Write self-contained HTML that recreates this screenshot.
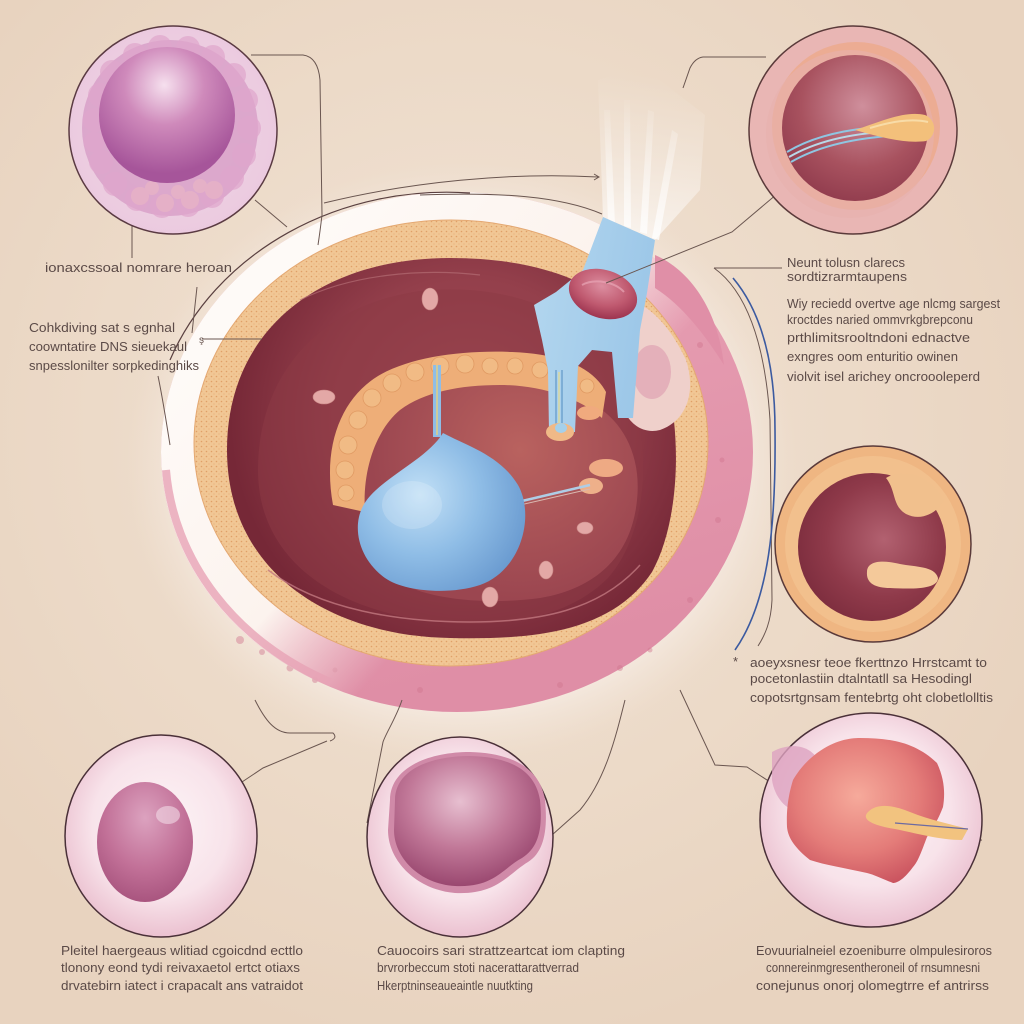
<!DOCTYPE html>
<html><head><meta charset="utf-8"><style>
html,body{margin:0;padding:0;background:#ebd8c5;}
svg{display:block}
text{font-family:"Liberation Sans",sans-serif;fill:#5b4a47;}
</style></head><body>
<svg width="1024" height="1024" viewBox="0 0 1024 1024" xmlns="http://www.w3.org/2000/svg">
<defs>
 <radialGradient id="bg" gradientUnits="userSpaceOnUse" cx="470" cy="430" r="620">
  <stop offset="0" stop-color="#f2e4d7"/><stop offset="0.6" stop-color="#ecdac8"/><stop offset="1" stop-color="#e8d3bf"/>
 </radialGradient>
 <radialGradient id="halo" cx="0.5" cy="0.5" r="0.5">
  <stop offset="0.8" stop-color="#f6ebe2" stop-opacity="1"/><stop offset="1" stop-color="#f1e3d6" stop-opacity="0"/>
 </radialGradient>
 <linearGradient id="pinkg" x1="0" y1="0" x2="0.3" y2="1">
  <stop offset="0" stop-color="#eaa6b8"/><stop offset="1" stop-color="#df8ea6"/>
 </linearGradient>
 <linearGradient id="whiteg" gradientUnits="userSpaceOnUse" x1="260" y1="290" x2="560" y2="560">
  <stop offset="0" stop-color="#fefaf7" stop-opacity="1"/>
  <stop offset="0.55" stop-color="#fcf3ee" stop-opacity="1"/>
  <stop offset="0.85" stop-color="#f8e6e4" stop-opacity="0"/>
 </linearGradient>
 <pattern id="dots" width="5" height="5" patternUnits="userSpaceOnUse">
  <rect width="5" height="5" fill="#f1c795"/>
  <circle cx="1.5" cy="1.5" r="0.8" fill="#d99259" opacity="0.75"/>
  <circle cx="4" cy="4" r="0.6" fill="#dc9a64" opacity="0.6"/>
 </pattern>
 <radialGradient id="maroon" gradientUnits="userSpaceOnUse" cx="470" cy="420" r="240">
  <stop offset="0" stop-color="#a85059"/><stop offset="0.6" stop-color="#933f4b"/><stop offset="1" stop-color="#762837"/>
 </radialGradient>
 <radialGradient id="cavity" gradientUnits="userSpaceOnUse" cx="520" cy="450" r="150">
  <stop offset="0" stop-color="#b9625f"/><stop offset="1" stop-color="#9b4650"/>
 </radialGradient>
 <radialGradient id="drop" gradientUnits="userSpaceOnUse" cx="420" cy="495" r="120">
  <stop offset="0" stop-color="#c2e0f6"/><stop offset="0.5" stop-color="#8fbde6"/><stop offset="1" stop-color="#6596cd"/>
 </radialGradient>
 <linearGradient id="tube" x1="0" y1="0" x2="1" y2="0.3">
  <stop offset="0" stop-color="#b4d7ef"/><stop offset="1" stop-color="#9cc7e8"/>
 </linearGradient>
 <linearGradient id="rays" gradientUnits="userSpaceOnUse" x1="630" y1="235" x2="650" y2="75">
  <stop offset="0" stop-color="#ffffff" stop-opacity="0.6"/><stop offset="0.5" stop-color="#ffffff" stop-opacity="0.25"/><stop offset="1" stop-color="#ffffff" stop-opacity="0"/>
 </linearGradient>
 <linearGradient id="stripe" gradientUnits="userSpaceOnUse" x1="0" y1="235" x2="0" y2="90">
  <stop offset="0" stop-color="#ffffff" stop-opacity="0.75"/><stop offset="1" stop-color="#ffffff" stop-opacity="0"/>
 </linearGradient>
 <radialGradient id="cap" cx="0.45" cy="0.35" r="0.65">
  <stop offset="0" stop-color="#dc8ea0"/><stop offset="0.6" stop-color="#c05a70"/><stop offset="1" stop-color="#9e3550"/>
 </radialGradient>
 <radialGradient id="tlO" cx="0.5" cy="0.5" r="0.5">
  <stop offset="0" stop-color="#f4dcea"/><stop offset="1" stop-color="#ebcadf"/>
 </radialGradient>
 <radialGradient id="tlS" cx="0.48" cy="0.28" r="0.65">
  <stop offset="0" stop-color="#f6e0ee"/><stop offset="0.45" stop-color="#cf8abb"/><stop offset="1" stop-color="#a6559a"/>
 </radialGradient>
 <radialGradient id="trI" cx="0.55" cy="0.35" r="0.7">
  <stop offset="0" stop-color="#cf8f9c"/><stop offset="0.6" stop-color="#a8525f"/><stop offset="1" stop-color="#8f3a4c"/>
 </radialGradient>
 <radialGradient id="rmI" cx="0.58" cy="0.45" r="0.65">
  <stop offset="0" stop-color="#b26170"/><stop offset="0.6" stop-color="#8f3a4a"/><stop offset="1" stop-color="#7a2b3c"/>
 </radialGradient>
 <radialGradient id="cellW" cx="0.5" cy="0.45" r="0.55">
  <stop offset="0" stop-color="#fdf5f7"/><stop offset="0.65" stop-color="#f8e3ea"/><stop offset="1" stop-color="#ebc1d0"/>
 </radialGradient>
 <radialGradient id="nuc1" cx="0.5" cy="0.3" r="0.7">
  <stop offset="0" stop-color="#dca2bf"/><stop offset="0.6" stop-color="#c27198"/><stop offset="1" stop-color="#a9557f"/>
 </radialGradient>
 <radialGradient id="nuc2" cx="0.45" cy="0.35" r="0.65">
  <stop offset="0" stop-color="#e7bfd0"/><stop offset="0.55" stop-color="#c17898"/><stop offset="1" stop-color="#9a4870"/>
 </radialGradient>
 <radialGradient id="nuc3" cx="0.45" cy="0.4" r="0.65">
  <stop offset="0" stop-color="#f6aa9b"/><stop offset="0.6" stop-color="#e47c79"/><stop offset="1" stop-color="#c9525e"/>
 </radialGradient>
</defs>

<rect width="1024" height="1024" fill="url(#bg)"/>

<!-- halo around main -->
<ellipse cx="462" cy="462" rx="335" ry="300" fill="url(#halo)"/>

<!-- white rays -->
<polygon points="603,217 598,80 640,65 705,115 700,190 655,240" fill="url(#rays)"/>
<g fill="url(#stripe)">
 <polygon points="608,222 604,110 610,110 615,224"/>
 <polygon points="624,226 624,100 630,100 631,228"/>
 <polygon points="640,232 648,110 654,112 647,234"/>
 <polygon points="652,238 672,130 678,134 659,240"/>
</g>

<!-- pink outer -->
<ellipse cx="457" cy="452" rx="296" ry="260" fill="url(#pinkg)"/>
<g fill="#d0768f" opacity="0.45">
 <circle cx="240" cy="640" r="4"/><circle cx="262" cy="652" r="3"/><circle cx="290" cy="668" r="3.5"/>
 <circle cx="315" cy="680" r="3"/><circle cx="335" cy="670" r="2.5"/><circle cx="420" cy="690" r="3"/>
 <circle cx="560" cy="685" r="3"/><circle cx="620" cy="668" r="3"/><circle cx="690" cy="600" r="3"/>
 <circle cx="718" cy="520" r="3"/><circle cx="722" cy="460" r="2.5"/>
 <circle cx="650" cy="650" r="2.5"/><circle cx="700" cy="345" r="3"/>
</g>
<!-- white crescent (fades to pink toward bottom-right) -->
<ellipse cx="457" cy="452" rx="296" ry="260" fill="url(#whiteg)"/>
<path d="M166,470 A292,256 0 0 0 330,682" fill="none" stroke="#e7a2b5" stroke-width="8" opacity="0.8"/>
<path d="M170,360 A296,260 0 0 1 470,193" fill="none" stroke="#5a4040" stroke-width="1.2"/>

<!-- orange dotted ring -->
<ellipse cx="451" cy="443" rx="257" ry="223" fill="url(#dots)" stroke="#e4a872" stroke-width="1"/>

<!-- dark maroon -->
<path d="M227,450 C227,330 320,258 450,258 C565,258 645,300 668,385 C682,445 678,525 652,572 C612,632 535,640 450,638 C330,636 227,572 227,450 Z" fill="url(#maroon)"/>
<path d="M258,470 C258,370 325,300 430,290 C520,284 600,318 632,395 C652,455 646,535 608,578 C568,618 505,628 440,622 C335,612 258,560 258,470 Z" fill="#8c3a46" opacity="0.55"/>
<path d="M268,570 C320,610 400,622 470,622 C540,622 600,610 640,565" fill="none" stroke="#c27880" stroke-width="1.5" opacity="0.8"/>
<path d="M300,300 C350,275 420,268 480,275" fill="none" stroke="#b36c74" stroke-width="1.2" opacity="0.7"/>

<!-- pale region right of tube -->
<path d="M655,255 C690,270 718,310 724,365 C705,335 682,305 655,288 Z" fill="#e08fa7"/>
<path d="M625,300 C650,302 672,330 686,360 C696,390 688,420 660,430 C640,435 625,420 620,400 Z" fill="#efd0cb"/>
<ellipse cx="652" cy="372" rx="19" ry="27" fill="#e4b0ba"/>

<!-- inner cavity lighter region -->
<path d="M360,505 C356,455 375,415 405,400 C445,382 520,378 580,398 C620,413 642,452 637,500 C632,552 600,588 540,598 C480,606 420,598 392,578 C372,562 362,532 360,505 Z" fill="url(#cavity)"/>
<!-- orange lumpy band -->
<path d="M333,505 C322,445 342,398 378,376 C410,357 462,350 512,352 C560,354 592,366 606,392 L602,418 C580,398 540,385 500,385 C460,385 424,392 400,410 C376,430 362,470 365,512 Z" fill="#eeae78"/>
<g fill="#f1bb85" stroke="#e09a63" stroke-width="0.8">
 <circle cx="345" cy="470" r="9"/><circle cx="348" cy="445" r="9"/><circle cx="358" cy="420" r="9"/>
 <circle cx="372" cy="398" r="9"/><circle cx="392" cy="383" r="9"/><circle cx="415" cy="372" r="9"/>
 <circle cx="440" cy="366" r="9"/><circle cx="465" cy="364" r="9"/><circle cx="490" cy="366" r="8"/>
 <circle cx="515" cy="366" r="8"/><circle cx="540" cy="370" r="8"/><circle cx="565" cy="376" r="8"/>
 <circle cx="587" cy="386" r="7"/><circle cx="346" cy="493" r="8"/>
</g>

<!-- small cells -->
<g fill="#e3a8a6" stroke="#c98685" stroke-width="0.6">
 <ellipse cx="430" cy="299" rx="8" ry="11"/>
 <ellipse cx="324" cy="397" rx="11" ry="7"/>
 <ellipse cx="585" cy="528" rx="8" ry="6"/>
 <ellipse cx="546" cy="570" rx="7" ry="9"/>
 <ellipse cx="490" cy="597" rx="8" ry="10"/>
</g>
<ellipse cx="589" cy="413" rx="12" ry="7" fill="#f0aa7e"/>
<ellipse cx="606" cy="468" rx="17" ry="9" fill="#eeaa84"/>
<ellipse cx="591" cy="486" rx="12" ry="8" fill="#eeb08a"/>
<path d="M505,505 L590,485" stroke="#aecde6" stroke-width="2.5" fill="none"/>
<path d="M507,508 L590,489" stroke="#d9b8b0" stroke-width="1" fill="none"/>

<!-- blue drop -->
<rect x="433" y="365" width="8" height="72" fill="#8fbde6"/>
<rect x="436" y="365" width="2" height="70" fill="#e8d27a" opacity="0.7"/>
<path d="M443,433 C465,445 500,455 518,485 C535,515 522,570 480,585 C450,595 405,592 385,578 C360,560 352,530 362,508 C375,480 425,462 443,433 Z" fill="url(#drop)"/>
<ellipse cx="412" cy="505" rx="30" ry="24" fill="#ffffff" opacity="0.18"/>

<!-- blue tube -->
<path d="M603,217 L655,240 L647,293 L640,330 L633,418 L618,418 L612,352 L592,350 L578,366 L575,432 L549,432 L548,370 L542,340 L534,305 L556,292 L583,270 Z" fill="url(#tube)"/>
<path d="M556,370 L556,428 M562,370 L562,428" stroke="#6fa3cf" stroke-width="1.5"/>
<path d="M559,372 L559,426" stroke="#e9dc8a" stroke-width="1.2"/>
<ellipse cx="560" cy="432" rx="14" ry="9" fill="#f0b987"/>
<ellipse cx="561" cy="428" rx="6" ry="5" fill="#a5d0ea"/>
<!-- red cap -->
<ellipse cx="603" cy="294" rx="35" ry="24" transform="rotate(18 603 294)" fill="url(#cap)"/>
<path d="M582,285 C595,278 615,282 624,292" stroke="#e8a5b5" stroke-width="2" fill="none" opacity="0.7"/>

<!-- connectors -->
<g fill="none" stroke="#6a5650" stroke-width="1">
 <path d="M251,55 L303,55 Q318,57 320,80 L322,215 Q320,232 318,245"/>
 <path d="M255,200 L287,227"/>
 <path d="M132,215 L132,258"/>
 <path d="M324,203 C410,182 510,172 598,177"/>
 <path d="M420,195 C500,192 560,196 602,214"/>
 <path d="M766,57 L703,57 Q695,58 690,68 L683,88"/>
 <path d="M790,183 L732,232 L606,283"/>
 <path d="M714,268 L782,268"/>
 <path d="M714,268 C745,290 765,340 770,420 L772,600 C771,622 765,635 758,646"/>
 <path d="M197,287 L192,333"/>
 <path d="M202,339 L262,339"/>
 <path d="M158,376 C163,400 166,420 170,445"/>
 <path d="M255,700 C265,720 275,733 290,733 L333,733 Q338,738 330,741"/>
 <path d="M327,741 L263,768 L188,818"/>
 <path d="M402,700 C396,718 386,733 383,742 L367,823"/>
 <path d="M625,700 C615,740 605,780 580,810 L552,835"/>
 <path d="M680,690 L715,765 L747,767 L790,795"/>
 <path d="M962,842 L982,840"/>
</g>
<path d="M733,278 C760,310 775,360 775,430 C776,520 770,600 735,650" fill="none" stroke="#3b5aa0" stroke-width="1.6"/>
<path d="M594,174 L599,177 L594,180" fill="none" stroke="#6a5650" stroke-width="1"/>
<circle cx="188" cy="818" r="1.8" fill="#5a3a40"/>
<text x="199" y="343" font-size="10" style="fill:#6a5650">ş</text>

<!-- top-left circle -->
<circle cx="173" cy="130" r="104" fill="url(#tlO)" stroke="#5a3a42" stroke-width="1.5"/>
<circle cx="170" cy="128" r="88" fill="#d69ac4" opacity="0.75"/>
<g fill="#e0a6cc" opacity="0.7">
 <circle cx="95" cy="120" r="12"/><circle cx="100" cy="95" r="12"/><circle cx="112" cy="72" r="12"/>
 <circle cx="135" cy="55" r="12"/><circle cx="160" cy="47" r="12"/><circle cx="188" cy="48" r="12"/>
 <circle cx="213" cy="57" r="12"/><circle cx="234" cy="75" r="12"/><circle cx="246" cy="100" r="12"/>
 <circle cx="249" cy="128" r="12"/><circle cx="244" cy="155" r="12"/><circle cx="232" cy="178" r="12"/>
 <circle cx="212" cy="196" r="12"/><circle cx="188" cy="205" r="12"/><circle cx="162" cy="206" r="12"/>
 <circle cx="137" cy="199" r="12"/><circle cx="115" cy="184" r="12"/><circle cx="101" cy="162" r="12"/>
 <circle cx="94" cy="142" r="10"/>
</g>
<g fill="#e8b4c6" opacity="0.75">
 <circle cx="140" cy="196" r="9"/><circle cx="165" cy="203" r="9"/><circle cx="190" cy="200" r="9"/><circle cx="214" cy="190" r="9"/>
 <circle cx="152" cy="188" r="7"/><circle cx="178" cy="192" r="7"/><circle cx="200" cy="186" r="7"/>
</g>
<circle cx="167" cy="115" r="68" fill="url(#tlS)"/>

<!-- top-right circle -->
<circle cx="853" cy="130" r="104" fill="#e9b6b4" stroke="#5a3a3a" stroke-width="1.5"/>
<circle cx="856" cy="126" r="84" fill="#eca884" opacity="0.7"/>
<circle cx="850" cy="134" r="84" fill="#e7b1ae" opacity="0.6"/>
<circle cx="855" cy="128" r="73" fill="url(#trI)"/>
<g fill="none" stroke-width="2">
 <path d="M787,152 C815,135 855,127 900,126" stroke="#8fc6e2"/>
 <path d="M789,157 C818,140 858,132 902,131" stroke="#b8d8e8"/>
 <path d="M791,162 C820,145 860,137 904,135" stroke="#8fc6e2"/>
</g>
<path d="M855,130 C880,122 905,110 925,115 C937,120 937,136 926,141 C905,144 880,137 855,130 Z" fill="#f3c07b"/>
<path d="M870,128 C890,122 910,118 928,122" stroke="#f8dca8" stroke-width="2" fill="none"/>

<!-- right-middle circle -->
<circle cx="873" cy="544" r="98" fill="#efb682" stroke="#5a3a3a" stroke-width="1.5"/>
<circle cx="873" cy="544" r="88" fill="#f4c898" opacity="0.55"/>
<circle cx="872" cy="547" r="74" fill="url(#rmI)"/>
<path d="M886,478 C896,490 892,506 906,514 C922,522 938,512 944,500 C936,486 926,478 912,474 C902,472 892,474 886,478 Z" fill="#f1c08d"/>
<path d="M867,572 C867,560 884,560 900,564 C915,567 935,566 938,578 C938,590 910,589 890,588 C875,588 866,583 867,572 Z" fill="#f4c99a"/>

<!-- bottom-left circle -->
<ellipse cx="161" cy="836" rx="96" ry="101" fill="url(#cellW)" stroke="#4a3038" stroke-width="1.5"/>
<ellipse cx="145" cy="842" rx="48" ry="60" fill="url(#nuc1)"/>
<ellipse cx="168" cy="815" rx="12" ry="9" fill="#f2dbe6" opacity="0.6"/>

<!-- bottom-middle circle -->
<ellipse cx="460" cy="837" rx="93" ry="100" fill="url(#cellW)" stroke="#4a3038" stroke-width="1.5"/>
<path d="M390,800 C390,768 428,752 470,752 C512,753 540,768 545,800 C548,830 544,852 528,862 C508,874 497,895 455,893 C418,890 388,862 388,830 Z" fill="#d08aa8"/>
<path d="M395,800 C395,770 430,756 470,756 C510,757 535,770 540,800 C543,830 538,848 522,858 C503,868 494,888 455,886 C420,884 394,858 394,830 Z" fill="url(#nuc2)"/>

<!-- bottom-right circle -->
<ellipse cx="871" cy="820" rx="111" ry="107" fill="url(#cellW)" stroke="#4a3038" stroke-width="1.5"/>
<path d="M772,752 C790,742 810,745 818,760 L805,810 C790,815 775,800 772,780 Z" fill="#dda3c0" opacity="0.8"/>
<path d="M817,753 C835,740 850,738 860,738 C890,738 915,742 937,763 C945,780 945,795 943,807 C938,820 932,830 927,837 C922,850 918,862 913,867 C905,878 898,883 893,883 C880,878 875,875 867,873 C845,868 825,865 810,860 C795,848 788,838 787,827 C786,805 790,790 793,780 C800,768 808,760 817,753 Z" fill="url(#nuc3)"/>
<path d="M868,812 C878,802 895,806 910,812 C930,820 950,824 968,829 L962,840 C940,840 915,833 895,829 C875,826 860,820 868,812 Z" fill="#f2c37f"/>
<path d="M895,823 L968,829" stroke="#6c6aa2" stroke-width="1.3"/>

<!-- text -->
<g font-size="13">
 <text x="45" y="272" textLength="187" lengthAdjust="spacingAndGlyphs">ionaxcssoal nomrare heroan</text>
 <text x="29" y="332" textLength="146" lengthAdjust="spacingAndGlyphs">Cohkdiving sat s egnhal</text>
 <text x="29" y="351" textLength="158" lengthAdjust="spacingAndGlyphs">coowntatire DNS sieuekaul</text>
 <text x="29" y="370" textLength="170" lengthAdjust="spacingAndGlyphs">snpesslonilter sorpkedinghiks</text>

 <text x="787" y="267" textLength="118" lengthAdjust="spacingAndGlyphs">Neunt tolusn clarecs</text>
 <text x="787" y="281" textLength="120" lengthAdjust="spacingAndGlyphs">sordtizrarmtaupens</text>
 <text x="787" y="308" textLength="213" lengthAdjust="spacingAndGlyphs">Wiy reciedd overtve age nlcmg sargest</text>
 <text x="787" y="324" textLength="186" lengthAdjust="spacingAndGlyphs">kroctdes naried ommvrkgbrepconu</text>
 <text x="787" y="342" textLength="183" lengthAdjust="spacingAndGlyphs">prthlimitsrooltndoni ednactve</text>
 <text x="787" y="361" textLength="171" lengthAdjust="spacingAndGlyphs">exngres oom enturitio owinen</text>
 <text x="787" y="381" textLength="193" lengthAdjust="spacingAndGlyphs">violvit isel arichey oncroooleperd</text>

 <text x="733" y="666">*</text>
 <text x="750" y="667" textLength="237" lengthAdjust="spacingAndGlyphs">aoeyxsnesr teoe fkerttnzo Hrrstcamt to</text>
 <text x="750" y="683" textLength="222" lengthAdjust="spacingAndGlyphs">pocetonlastiin dtalntatll sa Hesodingl</text>
 <text x="750" y="702" textLength="243" lengthAdjust="spacingAndGlyphs">copotsrtgnsam fentebrtg oht clobetlolltis</text>

 <text x="61" y="955" textLength="242" lengthAdjust="spacingAndGlyphs">Pleitel haergeaus wlitiad cgoicdnd ecttlo</text>
 <text x="61" y="972" textLength="239" lengthAdjust="spacingAndGlyphs">tlonony eond tydi reivaxaetol ertct otiaxs</text>
 <text x="61" y="990" textLength="242" lengthAdjust="spacingAndGlyphs">drvatebirn iatect i crapacalt ans vatraidot</text>

 <text x="377" y="955" textLength="248" lengthAdjust="spacingAndGlyphs">Cauocoirs sari strattzeartcat iom clapting</text>
 <text x="377" y="972" textLength="202" lengthAdjust="spacingAndGlyphs">brvrorbeccum stoti nacerattarattverrad</text>
 <text x="377" y="990" textLength="156" lengthAdjust="spacingAndGlyphs">Hkerptninseaueaintle nuutkting</text>

 <text x="756" y="955" textLength="236" lengthAdjust="spacingAndGlyphs">Eovuurialneiel ezoeniburre olmpulesiroros</text>
 <text x="766" y="972" textLength="214" lengthAdjust="spacingAndGlyphs">connereinmgresentheroneil of rnsumnesni</text>
 <text x="756" y="990" textLength="233" lengthAdjust="spacingAndGlyphs">conejunus onorj olomegtrre ef antrirss</text>
</g>
</svg>
</body></html>
